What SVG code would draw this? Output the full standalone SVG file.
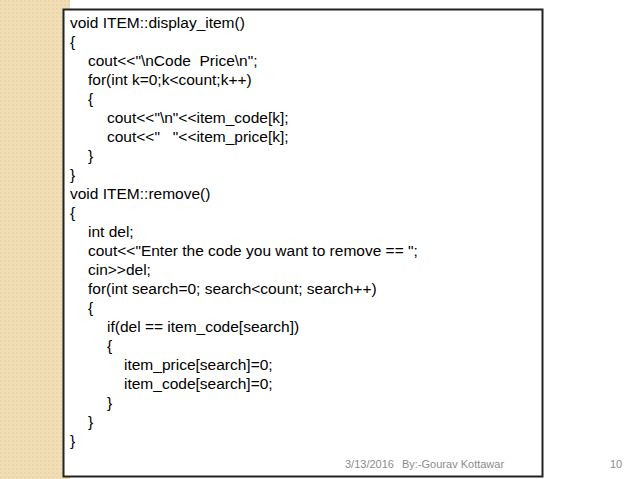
<svg xmlns="http://www.w3.org/2000/svg" width="638" height="479" viewBox="0 0 638 479">
<defs>
<pattern id="dots" width="4" height="4" patternUnits="userSpaceOnUse"><rect width="4" height="4" fill="#f1deb6"/><rect width="2" height="2" fill="#ecd6a8"/></pattern>
<style>
.c{font-family:"Liberation Sans",Arial,sans-serif;font-size:15.5px;fill:#000}
.f{font-family:"Liberation Sans",Arial,sans-serif;font-size:11px;fill:#8c8c8c}
</style>
</defs>
<rect width="638" height="479" fill="#fff"/>
<rect x="0" y="0" width="70" height="479" fill="url(#dots)"/>
<g id="box"><rect x="63.5" y="9.5" width="479" height="467" fill="#fff" stroke="#222" stroke-width="2"/></g>
<g id="code" class="c">
<text x="70" y="28">void ITEM::display_item()</text>
<text x="70" y="47">{</text>
<text x="88" y="66" xml:space="preserve">cout&lt;&lt;"\nCode  Price\n";</text>
<text x="88" y="85">for(int k=0;k&lt;count;k++)</text>
<text x="88" y="104">{</text>
<text x="107" y="123">cout&lt;&lt;"\n"&lt;&lt;item_code[k];</text>
<text x="107" y="142" xml:space="preserve">cout&lt;&lt;"   "&lt;&lt;item_price[k];</text>
<text x="88" y="161">}</text>
<text x="70" y="180">}</text>
<text x="70" y="199">void ITEM::remove()</text>
<text x="70" y="218">{</text>
<text x="88" y="237">int del;</text>
<text x="88" y="256">cout&lt;&lt;"Enter the code you want to remove == ";</text>
<text x="88" y="275">cin&gt;&gt;del;</text>
<text x="88" y="294">for(int search=0; search&lt;count; search++)</text>
<text x="88" y="313">{</text>
<text x="107" y="332">if(del == item_code[search])</text>
<text x="107" y="351">{</text>
<text x="124" y="370">item_price[search]=0;</text>
<text x="124" y="389">item_code[search]=0;</text>
<text x="107" y="408">}</text>
<text x="88" y="427">}</text>
<text x="70" y="446">}</text>
</g>
<g id="footer" class="f">
<text x="345" y="468">3/13/2016</text>
<text x="402" y="468">By:-Gourav Kottawar</text>
<text x="610" y="468">10</text>
</g>
</svg>
